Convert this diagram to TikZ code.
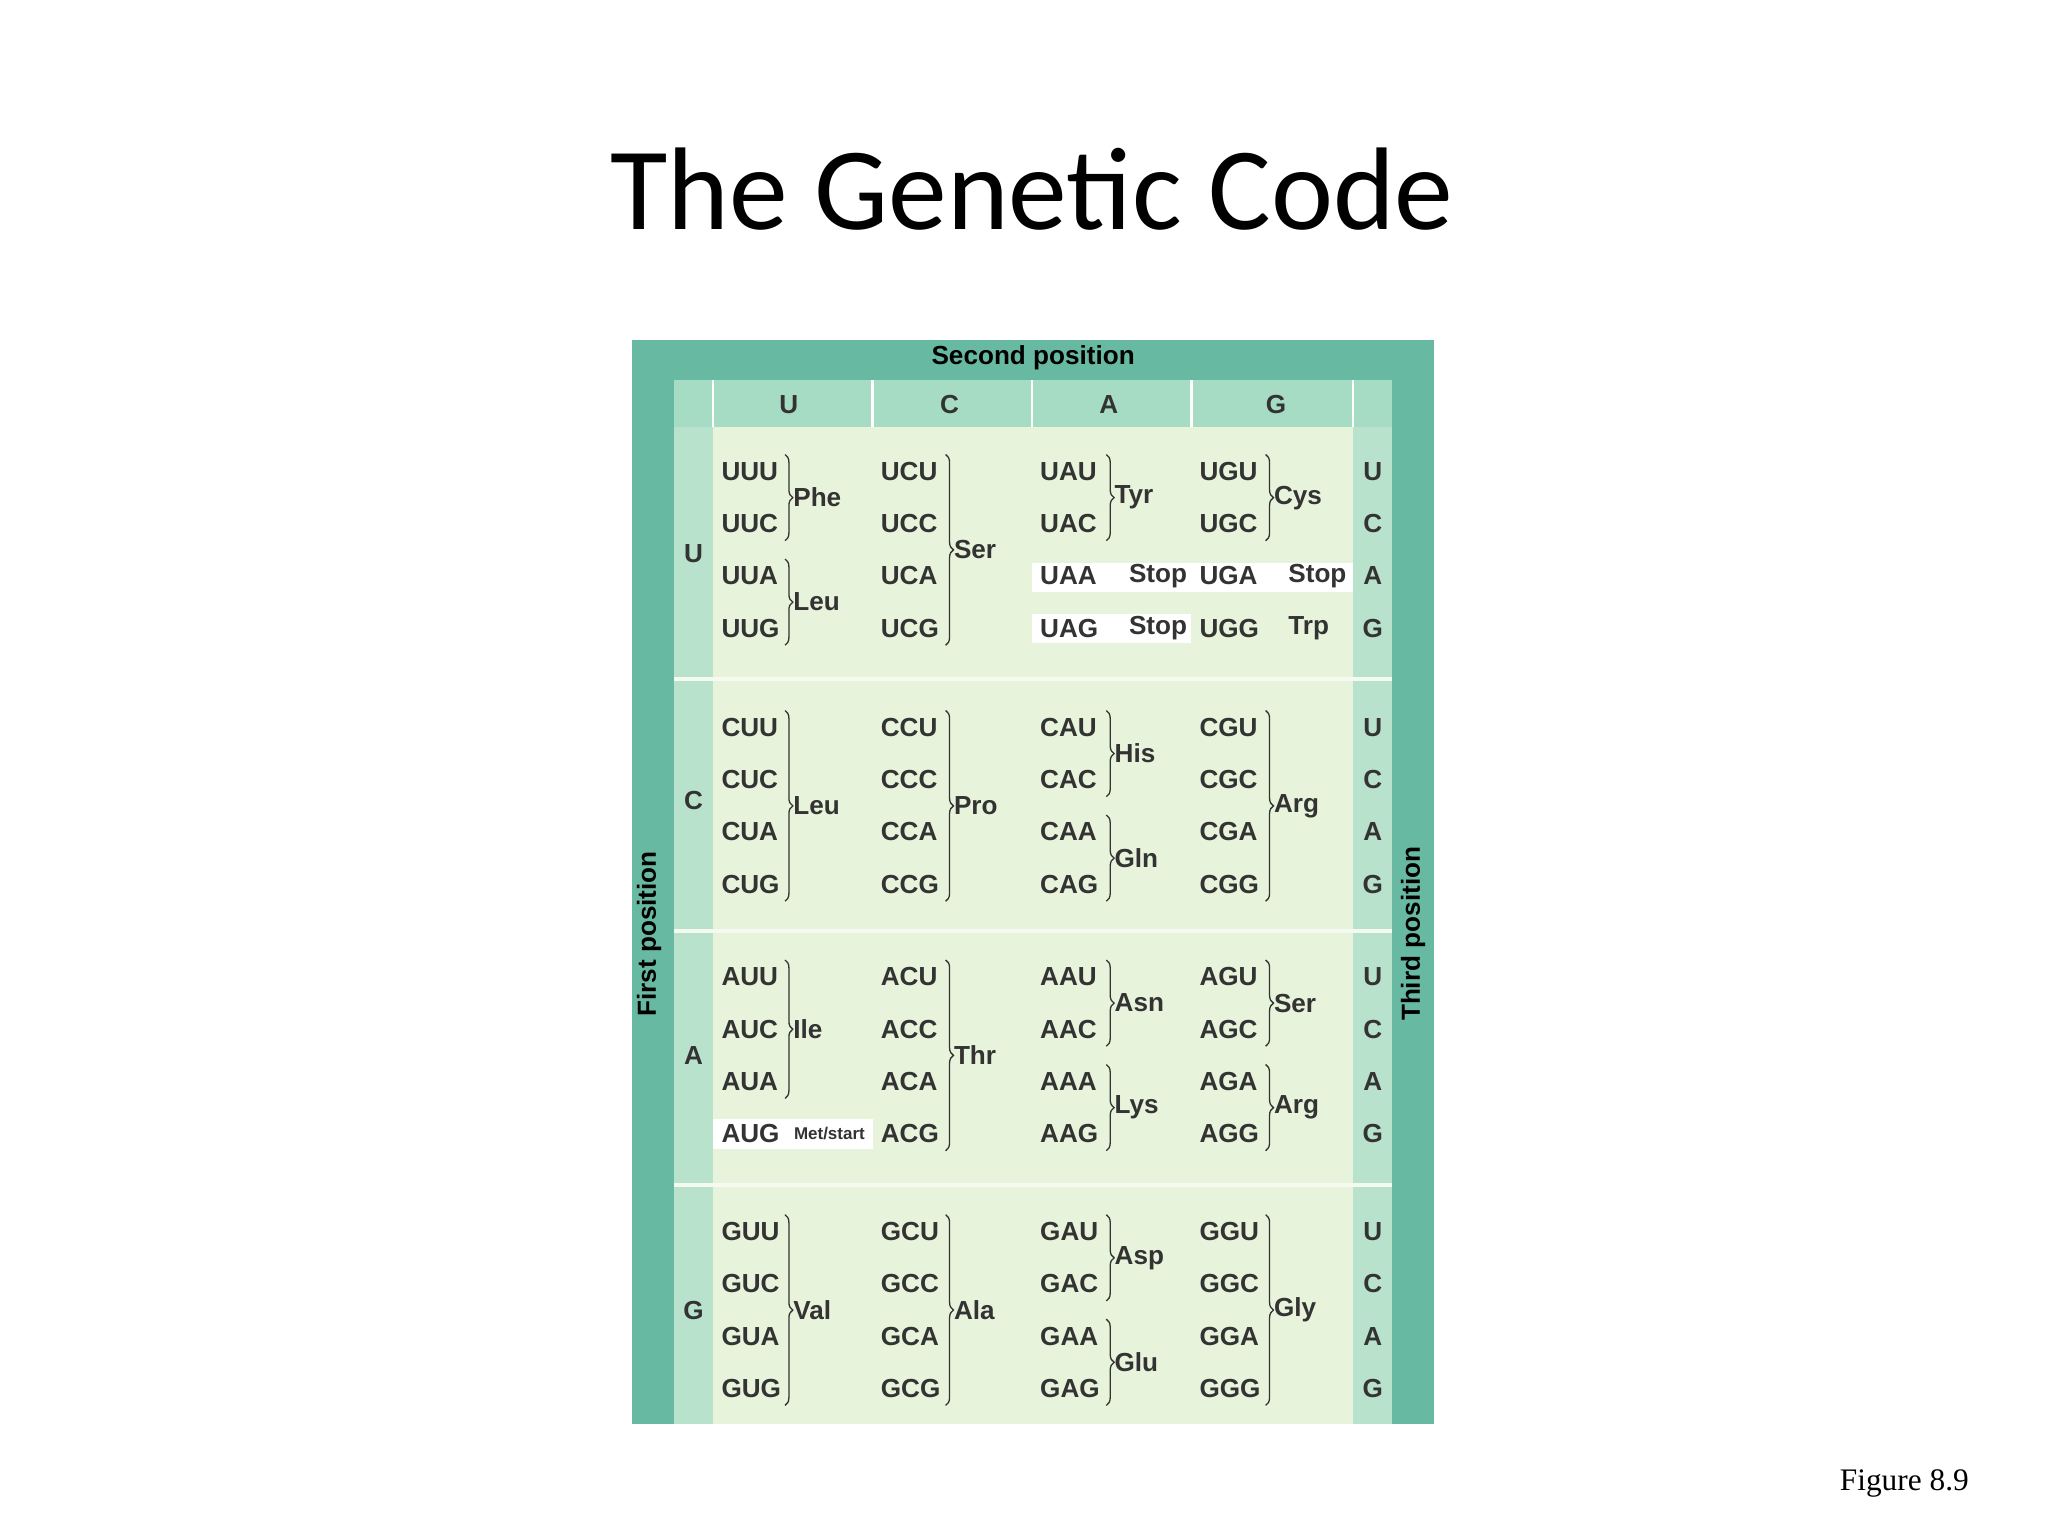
\documentclass[tikz,border=0pt]{standalone}
\usepackage{fontspec}
\setmainfont{Liberation Sans}
\newfontfamily\titlefont{Carlito}
\newfontfamily\capfont{Liberation Serif}
\usetikzlibrary{decorations.pathreplacing}
\definecolor{outer}{HTML}{68B9A1}
\definecolor{hdr}{HTML}{A6DBC4}
\definecolor{strip}{HTML}{B9E2CD}
\definecolor{body}{HTML}{E7F3DA}
\definecolor{ink}{HTML}{333333}
\tikzset{
 codon/.style={font=\bfseries\fontsize{10}{12}\selectfont, text=ink, anchor=west, inner sep=0pt},
 aa/.style={font=\bfseries\fontsize{10}{12}\selectfont, text=ink, inner sep=0pt},
 br/.style={decorate, decoration={brace, amplitude=3pt}, draw=ink, line width=0.5pt},
 lett/.style={font=\bfseries\fontsize{10}{12}\selectfont, text=ink, inner sep=0pt},
}
\newcommand\abrace[4]{%
 \draw[br] (#1,#2-13) -- (#1,#3+13);
 \node[aa,anchor=west] at (#1+6,{(#2+#3)/2}) {#4};}
\begin{document}
\begin{tikzpicture}[x=0.5pt,y=-0.5pt]
\useasboundingbox (0,0) rectangle (1568,1176);
\fill[white] (0,0) rectangle (1568,1176);
\node[font=\titlefont\fontsize{45}{50}\selectfont] (title) at (790,145) {The Genetic Code};
% table frame
\fill[outer] (484,260) rectangle (1098,1090);
\node[lett, text=black] (second) at (791,274) {Second position};
\fill[hdr] (516,291) rectangle (1066,327);
\fill[body] (546,327) rectangle (1036,1090);
\fill[strip] (516,327) rectangle (546,1090);
\fill[strip] (1036,327) rectangle (1066,1090);
\foreach \xx in {546,668,790,912,1036} \draw[white, line width=1pt] (\xx,291) -- (\xx,327);
\foreach \yy in {520,713,907} \draw[white!60!body, line width=1.5pt] (516,\yy) -- (1066,\yy);
\node[lett, rotate=90, text=black] (first) at (497,715) {First position};
\node[lett, rotate=90, text=black] (third) at (1082,715) {Third position};
% white highlights
\fill[white] (790,431) rectangle (1036,453);
\fill[white] (790,470) rectangle (912,492);
\fill[white] (546,857) rectangle (668,880);
% headers
\foreach \s/\xc in {U/604,C/727,A/849,G/977} \node[lett] (h\s) at (\xc,310) {\s};
\foreach \f/\yc in {U/424,C/613,A/808,G/1003} \node[lett] (f\f) at (531,\yc) {\f};
\foreach \yb in {361,557,748,943}
 \foreach \t/\k in {U/0,C/1,A/2,G/3} \node[lett] at (1051,\yb+40*\k) {\t};
% codons
\foreach \f/\yb in {U/361,C/557,A/748,G/943}
 \foreach \s/\xc in {U/552,C/674,A/796,G/918}
  \foreach \t/\k in {U/0,C/1,A/2,G/3}
   \node[codon] (c\f\s\t) at (\xc,\yb+40*\k) {\f\s\t};
% block U
\abrace{601}{361}{401}{Phe}
\abrace{601}{441}{481}{Leu}
\abrace{724}{361}{481}{Ser}
\abrace{847}{361}{401}{Tyr}
\node[aa,anchor=west] at (864,441) {Stop};
\node[aa,anchor=west] at (864,481) {Stop};
\abrace{969}{361}{401}{Cys}
\node[aa,anchor=west] at (986,441) {Stop};
\node[aa,anchor=west] at (986,481) {Trp};
% block C
\abrace{601}{557}{677}{Leu}
\abrace{724}{557}{677}{Pro}
\abrace{847}{557}{597}{His}
\abrace{847}{637}{677}{Gln}
\abrace{969}{557}{677}{Arg}
% block A
\abrace{601}{748}{828}{Ile}
\node[aa,font=\bfseries\fontsize{6.5}{8}\selectfont] at (635,868) {Met/start};
\abrace{724}{748}{868}{Thr}
\abrace{847}{748}{788}{Asn}
\abrace{847}{828}{868}{Lys}
\abrace{969}{748}{788}{Ser}
\abrace{969}{828}{868}{Arg}
% block G
\abrace{601}{943}{1063}{Val}
\abrace{724}{943}{1063}{Ala}
\abrace{847}{943}{983}{Asp}
\abrace{847}{1023}{1063}{Glu}
\abrace{969}{943}{1063}{Gly}
\node[font=\capfont\fontsize{12}{14}\selectfont] (fig) at (1458,1136) {Figure 8.9};
\end{tikzpicture}
\end{document}
